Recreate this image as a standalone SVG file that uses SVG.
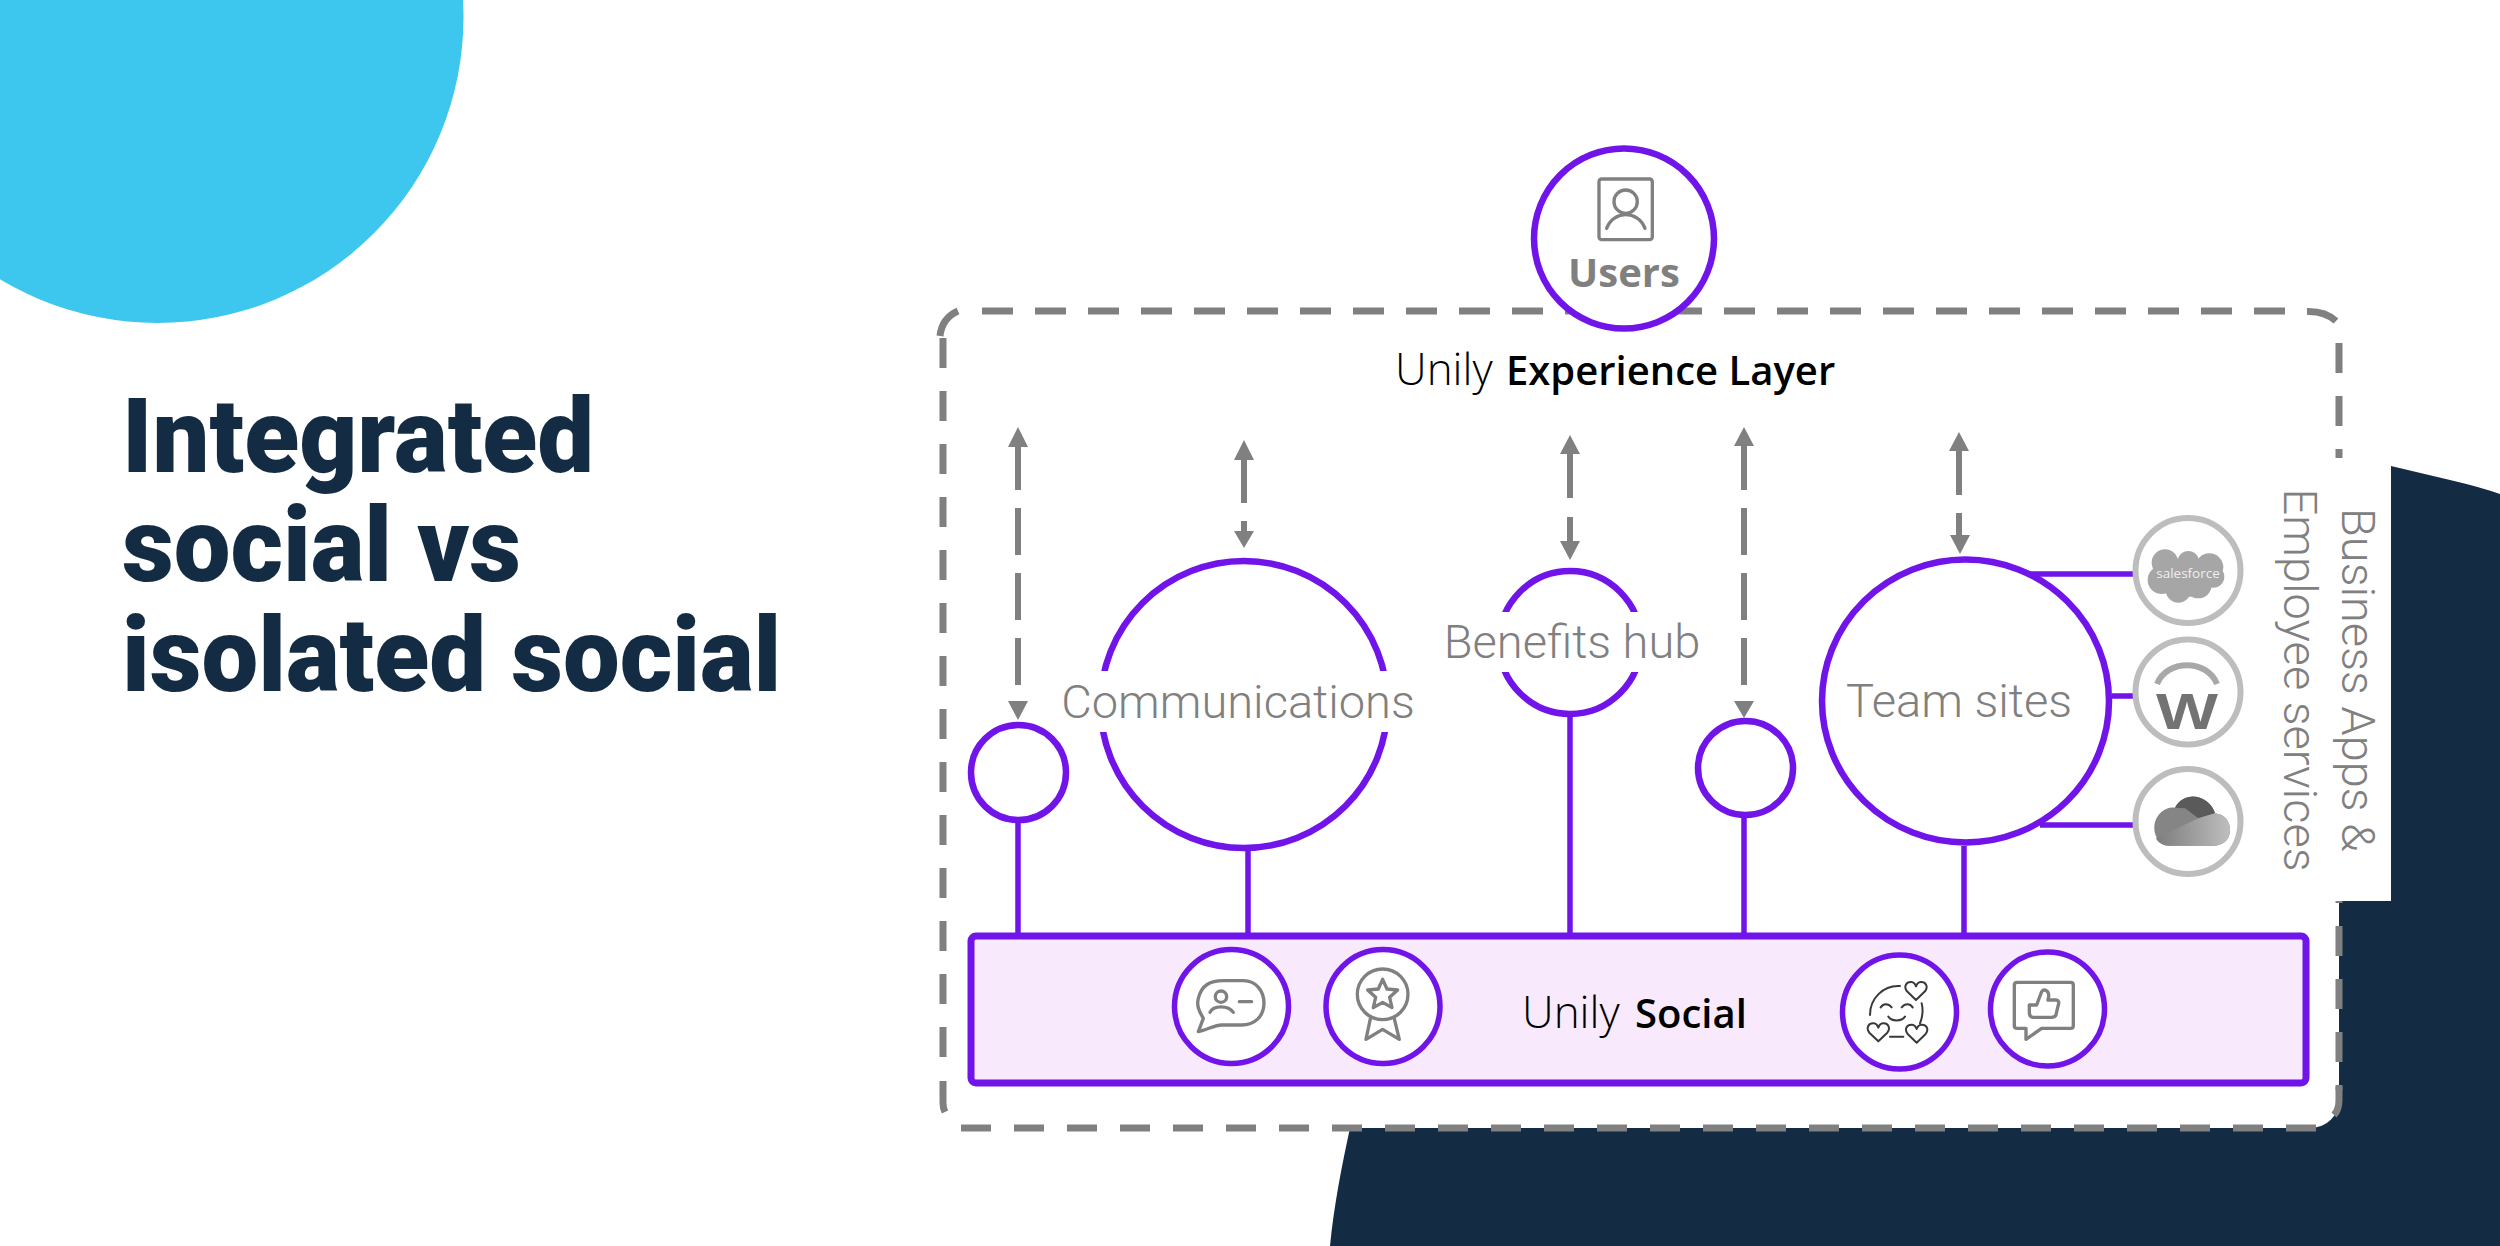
<svg xmlns="http://www.w3.org/2000/svg" width="2500" height="1246" viewBox="0 0 2500 1246">
<style>
.d{fill:none;stroke:#808080;stroke-width:7}
.a{fill:none;stroke:#808080;stroke-width:6}
.h{fill:#808080}
.p{fill:none;stroke:#7014EA;stroke-width:5.5}
.c{fill:#fff;stroke:#7014EA;stroke-width:6.5}
.s{fill:#fff;stroke:#7014EA;stroke-width:5.5}
.g{fill:#fff;stroke:#BDBDBD;stroke-width:6}
.i{fill:none;stroke:#808080;stroke-width:10;stroke-linejoin:round;stroke-linecap:round}
.f{fill:none;stroke:#3A3A3A;stroke-width:6;stroke-linecap:round;stroke-linejoin:round}
.l{font-family:Roboto,sans-serif;font-weight:300;font-size:47px;fill:#808080;text-anchor:middle}
.o{font-family:"Open Sans",sans-serif;font-size:44px;font-weight:300;fill:#000}
.b{font-weight:600;font-size:40px}
.t{font-family:Roboto,sans-serif;font-weight:900;font-size:103px;fill:#132C43}
</style>
<defs>
<linearGradient id="od" x1="0" y1="0" x2="1" y2="0"><stop offset="0" stop-color="#7C7C7C"/><stop offset="1" stop-color="#BEBEBE"/></linearGradient>
<path id="hr" d="M0 28L-27 2C-38-13-29-27-14-26C-6-25-2-19 0-13C2-19 6-25 14-26C29-27 38-13 27 2Z"/>
</defs>
<g id="background">
<circle cx="157.5" cy="17" r="306" fill="#3DC6EE"/>
<path d="M2391 466L2450 480Q2480 487 2500 494V1246H1330C1334 1205 1342 1165 1350 1128L1400 900Z" fill="#132C43"/>
</g>
<g id="title">
<text class="t" transform="translate(122,0) scale(.98,1)"><tspan x="0" y="472">Integrated</tspan><tspan x="0" y="581">social vs</tspan><tspan x="0" y="691">isolated social</tspan></text>
</g>
<g id="experience-layer">
<rect x="943" y="311" width="1396" height="817" rx="28" fill="#fff"/>
<path class="d" d="M982 311H2290" stroke-dasharray="31 22"/>
<path class="d" d="M2307 311.5Q2325 311 2336 321"/>
<path class="d" d="M2339 343V1090" stroke-dasharray="30 23"/>
<path class="d" d="M2339 1087V1100Q2339 1110 2334 1115"/>
<path class="d" d="M2316 1128H960" stroke-dasharray="30 23"/>
<path class="d" d="M943 338V1060" stroke-dasharray="30 23"/>
<path class="d" d="M943 1081V1103Q943 1108 945 1112"/>
<path class="d" d="M940 336Q942 318 958 311"/>
<text class="o" x="1395" y="385">Unily<tspan class="b" x="1506">Experience Layer</tspan></text>
</g>
<g id="panel">
<rect x="2320" y="458" width="71" height="443" fill="#fff"/>
<text class="l" transform="translate(2342,680) rotate(90)">Business Apps &amp;</text>
<text class="l" transform="translate(2284,680) rotate(90)">Employee services</text>
</g>
<g id="connectors">
<path class="p" d="M1018 823V936M1248 851V936M1570 717V936M1744 818V936M1964 846V936"/>
<path class="p" d="M2030 574H2136M2112 696H2136M2040 825H2136"/>
<path class="a" d="M1018 445V490M1018 508V555M1018 573V620M1018 638V685"/>
<path class="h" d="M1018 427L1028 447H1008ZM1018 720L1008 701H1028Z"/>
<path class="a" d="M1244 458V503M1244 521V533"/>
<path class="h" d="M1244 440L1254 460H1234ZM1244 548L1234 531H1254Z"/>
<path class="a" d="M1570 452V498M1570 517V543"/>
<path class="h" d="M1570 435L1580 454H1560ZM1570 560L1560 541H1580Z"/>
<path class="a" d="M1744 444V490M1744 508V555M1744 573V620M1744 638V685"/>
<path class="h" d="M1744 427L1754 446H1734ZM1744 718L1734 701H1754Z"/>
<path class="a" d="M1959 449V495M1959 513V537"/>
<path class="h" d="M1959 432L1969 451H1949ZM1960 554L1950 535H1970Z"/>
</g>
<g id="users">
<circle class="c" cx="1624" cy="238.5" r="90"/>
<g transform="translate(1450,120) scale(.3333)">
<rect class="i" x="447" y="177" width="160" height="182" rx="8"/>
<circle class="i" cx="527" cy="245" r="35"/>
<path class="i" d="M470 325C490 270 565 270 585 325"/>
</g>
<text x="1624" y="287" font-family="Open Sans,sans-serif" font-weight="700" font-size="40" fill="#808080" text-anchor="middle">Users</text>
</g>
<g id="node-small-left"><circle class="c" cx="1018.5" cy="772.5" r="47.5"/></g>
<g id="node-communications">
<circle class="c" cx="1244" cy="704.5" r="143.5"/>
<rect x="1090" y="671" width="310" height="61" fill="#fff"/>
<text class="l" x="1238" y="718">Communications</text>
</g>
<g id="node-benefits">
<ellipse class="c" cx="1570" cy="642.5" rx="71" ry="71.5"/>
<rect x="1490" y="612" width="160" height="60" fill="#fff"/>
<text class="l" x="1572" y="658">Benefits hub</text>
</g>
<g id="node-small-right"><ellipse class="c" cx="1745.5" cy="768" rx="47.5" ry="47"/></g>
<g id="node-team-sites">
<ellipse class="c" cx="1965.5" cy="701" rx="143.5" ry="141.5"/>
<text class="l" x="1959" y="717">Team sites</text>
</g>
<g id="app-salesforce">
<circle class="g" cx="2188" cy="570.5" r="52.5"/>
<g transform="translate(2050,480) scale(.3333)" fill="#A6A6A6">
<circle cx="345" cy="248" r="40"/><circle cx="415" cy="245" r="32"/><circle cx="478" cy="262" r="42"/><circle cx="335" cy="300" r="42"/><circle cx="385" cy="330" r="38"/><circle cx="445" cy="315" r="40"/><circle cx="420" cy="290" r="60"/><circle cx="490" cy="290" r="33"/>
</g>
<text x="2188" y="578" font-family="Open Sans,sans-serif" font-size="13.5" fill="#EEE" text-anchor="middle">salesforce</text>
</g>
<g id="app-workday">
<circle class="g" cx="2188" cy="692" r="52.5"/>
<path d="M2157 684C2167 659 2207 659 2217 684" fill="none" stroke="#A8A8A8" stroke-width="6"/>
<text x="2187" y="729" font-family="Liberation Sans,sans-serif" font-weight="700" font-size="50" fill="#737373" text-anchor="middle" textLength="62" lengthAdjust="spacingAndGlyphs">W</text>
</g>
<g id="app-onedrive">
<circle class="g" cx="2188" cy="821.5" r="52.5"/>
<g transform="translate(2050,480) scale(.3333)">
<path d="M355 1097C330 1097 313 1070 313 1045C313 1005 345 980 375 983C390 955 420 945 445 952C470 958 490 980 495 1000C525 1003 540 1025 540 1050C540 1080 520 1097 490 1097Z" fill="#858585"/>
<path d="M375 983C390 955 420 945 445 952C470 958 490 980 495 1000L445 1015L405 985Z" fill="#5A5A5A"/>
<path d="M318 1075L445 1015L495 1000C525 1003 540 1025 540 1050C540 1080 520 1097 490 1097H355C340 1097 325 1090 318 1075Z" fill="url(#od)"/>
</g>
</g>
<g id="social-bar">
<rect x="971" y="936" width="1335" height="147" rx="5" fill="#F8E9FD" stroke="#7014EA" stroke-width="7"/>
<text class="o" x="1522" y="1028">Unily<tspan class="b" x="1635">Social</tspan></text>
</g>
<g id="social-icon-1">
<circle class="s" cx="1231.5" cy="1006.5" r="57"/>
<g transform="translate(1140,930) scale(.3333)">
<path class="i" d="M175 305L190 265C175 240 170 225 175 205C185 165 210 152 250 152H310C350 152 372 185 372 220C372 258 345 285 305 285H245C225 285 200 300 175 305Z"/>
<circle class="i" cx="243" cy="200" r="17"/>
<path class="i" d="M210 247C220 225 265 225 280 247M298 215H335"/>
</g>
</g>
<g id="social-icon-2">
<circle class="s" cx="1383" cy="1006.5" r="57"/>
<g transform="translate(1140,930) scale(.3333)">
<circle class="i" cx="728" cy="193" r="76"/>
<path class="i" d="M728 148L741 177L773 180L749 202L756 233L728 217L700 233L707 202L683 180L715 177Z"/>
<path class="i" d="M692 262L678 328L728 298L778 328L762 262"/>
</g>
</g>
<g id="social-icon-3">
<circle class="s" cx="1899.5" cy="1012" r="57"/>
<g transform="translate(1820,930) scale(.3333)">
<path class="f" d="M240 168C190 165 150 205 150 255M305 220C310 240 308 260 300 280M210 320H250M182 232C190 220 205 220 215 232M245 232C255 220 270 220 278 232M205 260C215 275 245 275 255 260"/>
<use href="#hr" class="f" x="288" y="182"/>
<use href="#hr" class="f" x="175" y="306"/>
<use href="#hr" class="f" x="290" y="310"/>
</g>
</g>
<g id="social-icon-4">
<circle class="s" cx="2047.5" cy="1009" r="57"/>
<g transform="translate(1820,930) scale(.3333)">
<path class="i" d="M592 157H752Q760 157 760 165V287Q760 295 752 295H665L618 328V295H592Q583 295 583 287V165Q583 157 592 157Z"/>
<path class="i" d="M628 225H650L665 185C672 175 688 182 686 200L684 210H708C716 210 718 218 715 225L708 255C705 262 700 262 695 262H640C630 262 628 255 628 245Z"/>
</g>
</g>
</svg>
